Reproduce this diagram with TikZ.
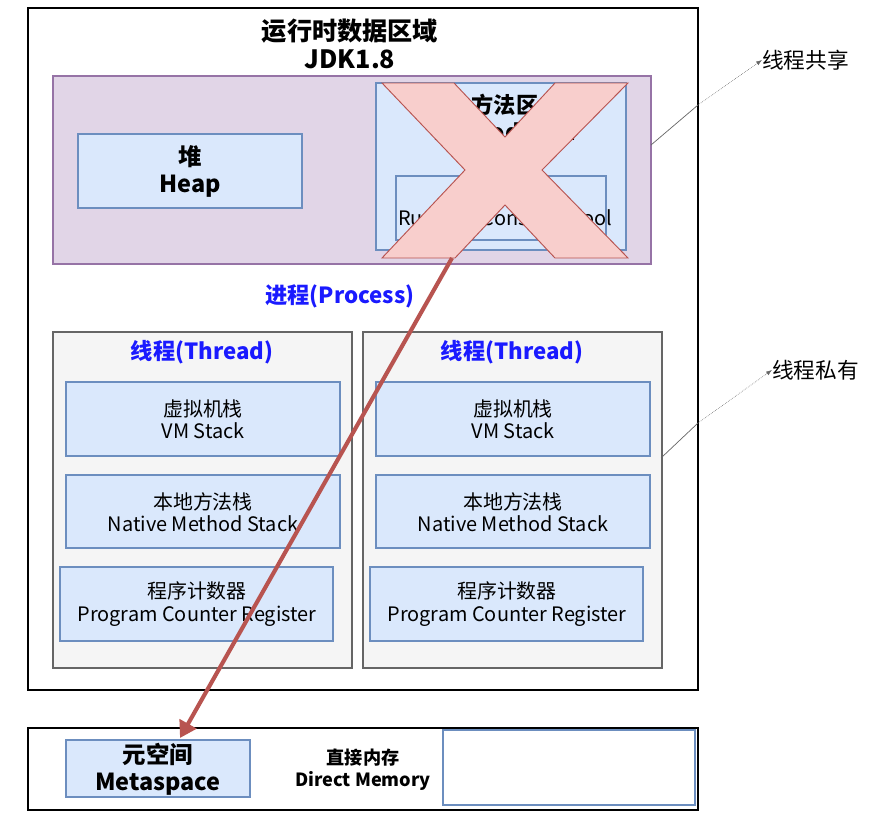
\documentclass[tikz,border=0pt]{standalone}
\usepackage{fontspec}
\setmainfont{Noto Sans CJK SC}
\usetikzlibrary{arrows.meta}
\definecolor{pf}{HTML}{E1D5E7}\definecolor{ps}{HTML}{9673A6}
\definecolor{bf}{HTML}{DAE8FC}\definecolor{bs}{HTML}{6C8EBF}
\definecolor{gf}{HTML}{F5F5F5}\definecolor{gs}{HTML}{666666}
\definecolor{rf}{HTML}{F8CECC}\definecolor{rs}{HTML}{B85450}
\definecolor{tb}{HTML}{1A1AFF}
\begin{document}
\begin{tikzpicture}[x=0.03cm,y=-0.03cm,
 box/.style={draw=bs,fill=bf,line width=1.6pt},
 gbox/.style={draw=gs,fill=gf,line width=1.4pt},
 txt/.style={align=center,font=\fontsize{17}{19}\selectfont,inner sep=0pt},
 big/.style={align=center,font=\bfseries\fontsize{20}{23}\selectfont,inner sep=0pt},
 blue/.style={text=tb,font=\bfseries\fontsize{19}{21}\selectfont,inner sep=0pt},
 lead/.style={gs,line width=0.6pt},
 leadd/.style={gs,line width=0.5pt,densely dotted,-{Latex[length=5pt]}}]
\useasboundingbox (0,0) rectangle (869,818);
\draw[line width=1.6pt,fill=white] (28,8) rectangle (698,690);
\node[big,font=\bfseries\fontsize{21.5}{24}\selectfont] (title) at (350,44) {运行时数据区域\\JDK1.8};
\draw[draw=ps,fill=pf,line width=1.6pt] (53,76) rectangle (651,264);
\draw[box] (78,134) rectangle (302,208);
\node[big] (heap) at (190,171) {堆\\Heap};
\draw[box] (376,83) rectangle (626,250);
\node[txt,font=\bfseries\fontsize{19}{23}\selectfont] (ma) at (505,117) {方法区\\Method Area};
\draw[box] (396,176) rectangle (606,240);
\node[txt] (rcp) at (505,218) {Runtime Constant Pool};
\draw[draw=rs,fill=rf,line width=0.8pt] (382,83)--(454,83)--(505,137)--(555,83)--(628,83)--(542,170)--(628,258)--(555,258)--(505,205)--(455,258)--(382,258)--(465,170)--cycle;
\node[blue] (proc) at (340,296) {进程(Process)};
\foreach \dx/\n in {0/l,310/r}{
 \draw[gbox] (53+\dx,332) rectangle (352+\dx,668);
 \node[blue] (th\n) at (202+\dx,352) {线程(Thread)};
 \draw[box] (66+\dx,382) rectangle (340+\dx,456);
 \node[txt] (vm\n) at (203+\dx,419) {虚拟机栈\\VM Stack};
 \draw[box] (66+\dx,475) rectangle (340+\dx,548);
 \node[txt] (nm\n) at (203+\dx,512) {本地方法栈\\Native Method Stack};
 \draw[box] (60+\dx,567) rectangle (333+\dx,641);
 \node[txt] (pc\n) at (197+\dx,604) {程序计数器\\Program Counter Register};
}
\draw[line width=1.6pt,fill=white] (28,728) rectangle (698,810);
\draw[box] (66,740) rectangle (250,797);
\node[big] (meta) at (158,769) {元空间\\Metaspace};
\node[txt,font=\bfseries\fontsize{15.5}{19}\selectfont] (dm) at (363,770) {直接内存\\Direct Memory};
\draw[draw=bs,line width=1.2pt,fill=white] (443,730) rectangle (695,805);
\coordinate (xa) at (452,258);
\coordinate (xb) at (180,738);
\draw[rs,line width=3.5pt,-{Triangle[length=14pt,width=16pt]}] (xa)--(xb);
\node[txt,font=\fontsize{18.5}{21}\selectfont,anchor=west] (sh) at (762,60) {线程共享};
\node[txt,font=\fontsize{18.5}{21}\selectfont,anchor=west] (pr) at (772,370) {线程私有};
\coordinate (s1) at (651,145); \coordinate (s2) at (698,105);
\coordinate (p1) at (661,458); \coordinate (p2) at (698,423);
\draw[lead] (s1)--(s2); \draw[leadd] (s2)--(sh.west);
\draw[lead] (p1)--(p2); \draw[leadd] (p2)--(pr.west);
\end{tikzpicture}
\end{document}
